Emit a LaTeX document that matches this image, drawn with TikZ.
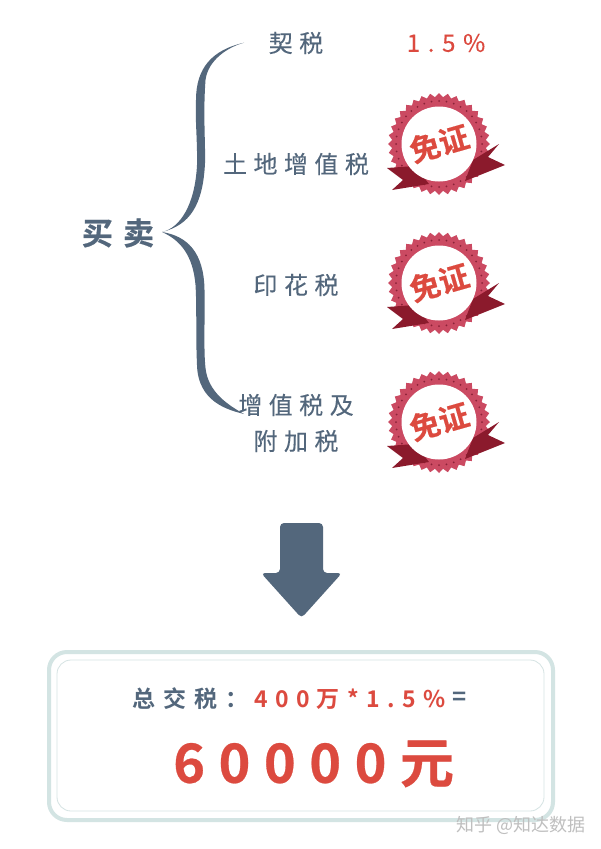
\documentclass[tikz,border=0pt]{standalone}
\usepackage{fontspec}
\setmainfont{Noto Sans CJK SC}
\newfontfamily\cjkb{Noto Sans CJK SC Bold}
\definecolor{slate}{HTML}{53677C}
\definecolor{redtxt}{HTML}{DC4A3F}
\definecolor{frameA}{HTML}{D3E4E3}
\definecolor{frameB}{HTML}{D5E3E3}
\definecolor{ringc}{HTML}{CB4A62}
\definecolor{ribbonc}{HTML}{8B1A2C}
\definecolor{dotc}{HTML}{8B2238}
\tikzset{
  x=1pt,y=-1pt,
  lab/.style={text=slate,font=\fontsize{24}{36}\selectfont\addfontfeature{LetterSpace=27,FakeBold=0.15},inner sep=0pt,align=center},
  redlab/.style={text=redtxt,inner sep=0pt},
  stamp/.pic={
    \fill[ringc] (0:51)
      \foreach \a in {5,10,...,355}{ -- (\a:{mod(\a,10)==0 ? 51 : 47}) } -- cycle;
    \foreach \a in {0,10,...,350}{\fill[dotc] (\a:43) circle (1);}
    \fill[ribbonc] (34,16) -- (60,0) -- (49,13) -- (66,21) -- (26,37) -- cycle;
    \fill[ribbonc] (-24,22) -- (-52,24) -- (-36,36) -- (-47,46) -- (-10,40) -- cycle;
    \fill[white] (0,0) circle (37.5);
    \node[rotate=16,text=redtxt,inner sep=0pt] (stamptext) at (0.3,-0.7) {\cjkb\fontsize{30}{30}\selectfont\addfontfeature{FakeBold=0.5}免证};
  }
}
\begin{document}
\begin{tikzpicture}
\useasboundingbox (0,0) rectangle (600,849);
\fill[white] (0,0) rectangle (600,849);
% brace
\fill[slate] (244,42.7) .. controls (228,47) and (208,60) .. (205.5,80)
  .. controls (203,115) and (205.5,140) .. (205,163)
  .. controls (203,205) and (190,225) .. (162,232)
  .. controls (187,236) and (204,252) .. (204.5,290)
  .. controls (205,320) and (203.5,350) .. (205.5,368)
  .. controls (208,392) and (228,405) .. (244,414)
  .. controls (228,410) and (198,402) .. (197,365)
  .. controls (195.5,330) and (197,310) .. (195.5,285)
  .. controls (193,255) and (180,240) .. (162,232)
  .. controls (180,228) and (195,205) .. (197,165)
  .. controls (197.5,140) and (195,120) .. (196,100)
  .. controls (196,68) and (212,50) .. (244,42.7) -- cycle;
% labels
\node[text=slate,inner sep=0pt] (mm) at (118,233) {\cjkb\fontsize{31}{31}\selectfont\addfontfeature{LetterSpace=33,FakeBold=0.6}买卖};
\node[lab] (a) at (296,43) {契税};
\node[lab] (b) at (296,164) {土地增值税};
\node[lab] (c) at (296,285) {印花税};
\node[lab] (d) at (296,423) {增值税及\\附加税};
\node[redlab,font=\fontsize{24}{26}\selectfont\addfontfeature{LetterSpace=32,FakeBold=0.15}] (r) at (446,43) {1.5\%};
% stamps
\pic at (439,144) {stamp};
\pic at (439,283) {stamp};
\pic at (439,422) {stamp};
% arrow
\fill[slate,rounded corners=4pt] (280,523) -- (323,523) -- (323,573) -- (342,573) -- (301.5,618) -- (261,573) -- (280,573) -- cycle;
% frame
\draw[frameA,line width=4pt,rounded corners=18pt] (49,652) rectangle (553,820);
\draw[frameB,line width=0.8pt,rounded corners=14pt] (57,660) rectangle (544,811);
\node[inner sep=0pt,anchor=west,text=slate] (t1) at (132,699) {\cjkb\fontsize{23}{26}\selectfont\addfontfeature{LetterSpace=35}总交税：};
\node[inner sep=0pt,anchor=west,text=redtxt] (t2) at (254,699) {\cjkb\fontsize{23}{26}\selectfont\addfontfeature{LetterSpace=32}400万*1.5\%};
\node[inner sep=0pt,anchor=west,text=slate] (t3) at (452,699) {\cjkb\fontsize{24}{26}\selectfont =};
\node[inner sep=0pt,anchor=west,text=redtxt] (t4) at (173,764) {\cjkb\fontsize{54}{54}\selectfont\addfontfeature{LetterSpace=25,FakeBold=0.5}60000元};
% watermark
\node[inner sep=0pt,anchor=west,text=black!25] (w) at (456,825) {\fontsize{18}{20}\selectfont 知乎 @知达数据};
\end{tikzpicture}
\end{document}
